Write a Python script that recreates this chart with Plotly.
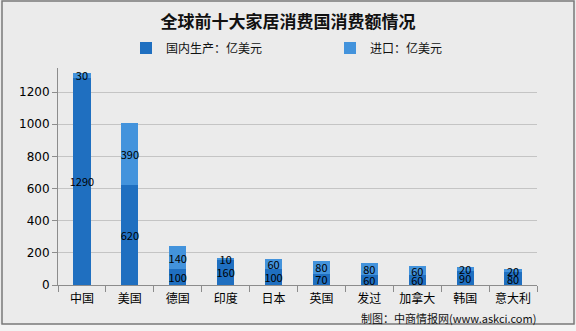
import plotly.graph_objects as go

categories = ["中国", "美国", "德国", "印度", "日本", "英国", "发过", "加拿大", "韩国", "意大利"]
domestic = [1290, 620, 100, 160, 100, 70, 60, 60, 90, 80]
imports = [30, 390, 140, 10, 60, 80, 80, 60, 20, 20]

FONT = "Noto Sans CJK SC"
W, H = 576, 331
L, R, T, B = 58, 39, 68, 46

fig = go.Figure()
fig.add_trace(go.Bar(
    x=categories, y=domestic, name="国内生产：亿美元",
    marker=dict(color="#1f6fc0", line=dict(width=0)),
    text=[str(v) for v in domestic], textposition="inside", textangle=0,
    insidetextanchor="middle", constraintext="none",
    textfont=dict(color="#000000", size=11, family=FONT),
    legend="legend",
))
fig.add_trace(go.Bar(
    x=categories, y=imports, name="进口：亿美元",
    marker=dict(color="#4393dc", line=dict(width=0)),
    text=[str(v) for v in imports], textposition="inside", textangle=0,
    insidetextanchor="middle", constraintext="none",
    textfont=dict(color="#000000", size=11, family=FONT),
    legend="legend2",
))

pw = W - L - R
ph = H - T - B
def px(x):
    return (x - L) / pw
def py(y):
    return (H - B - y) / ph

leg_common = dict(orientation="h", yanchor="middle", y=py(48), xanchor="left",
                  itemwidth=30, bgcolor="rgba(0,0,0,0)",
                  font=dict(size=12, family=FONT, color="#111111"))

fig.update_layout(
    width=W, height=H,
    margin=dict(l=L, r=R, t=T, b=B),
    barmode="stack", bargap=0.64,
    paper_bgcolor="#ebebeb", plot_bgcolor="#ebebeb",
    font=dict(family=FONT, size=12, color="#000000"),
    title=dict(text="<b>全球前十大家居消费国消费额情况</b>", x=0.5, xanchor="center",
               y=1 - 22 / H, yanchor="middle", font=dict(size=17, family=FONT, color="#111111")),
    legend=dict(x=px(126), **leg_common),
    legend2=dict(x=px(330), **leg_common),
    showlegend=True,
    xaxis=dict(showline=True, linecolor="#8c8c8c", linewidth=1, ticks="outside",
               tickson="boundaries", ticklen=6, tickcolor="#8c8c8c",
               tickfont=dict(size=12, family=FONT, color="#000000"), showgrid=False,
               ticklabelstandoff=3),
    yaxis=dict(range=[0, 1350], dtick=200, showline=True, linecolor="#8c8c8c", linewidth=1,
               ticks="outside", ticklen=5, tickcolor="#8c8c8c",
               gridcolor="#c4c4c4", gridwidth=1, zeroline=False,
               tickfont=dict(size=12, family="DejaVu Sans", color="#000000")),
    shapes=[
        dict(type="rect", xref="paper", yref="paper", x0=px(-2), x1=px(W + 2), y0=py(324), y1=py(H + 2),
             fillcolor="#f3f3f3", line=dict(width=0), layer="below"),
        dict(type="rect", xref="paper", yref="paper", x0=px(2), x1=px(574), y0=py(324), y1=py(1),
             line=dict(color="#7a7a7a", width=1.5), fillcolor="rgba(0,0,0,0)"),
    ],
    annotations=[
        dict(text="制图：中商情报网(www.askci.com)", xref="paper", yref="paper",
             x=px(538), y=py(318), xanchor="right", yanchor="middle", showarrow=False,
             font=dict(size=11, family=FONT, color="#111111")),
    ],
)

fig.write_html("out.html")
